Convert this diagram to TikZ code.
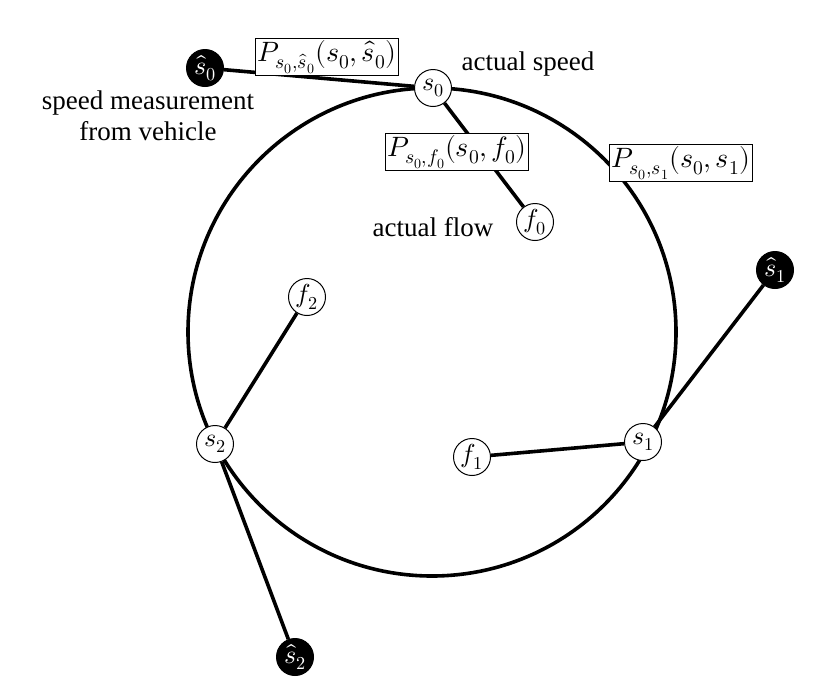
\documentclass[tikz,border=0pt]{standalone}
\usepackage{fontspec}
\usepackage{unicode-math}
\setmainfont{Liberation Serif}
\setmathfont{Latin Modern Math}
\usetikzlibrary{backgrounds}
\begin{document}
\begin{tikzpicture}[x=1pt,y=-1pt,
  vnode/.style={circle,draw,line width=1pt,fill=white,minimum size=37pt,inner sep=0pt,font=\fontsize{26}{28}\selectfont},
  obs/.style={vnode,fill=black,text=white},
  lbox/.style={draw,line width=1pt,fill=white,inner sep=2pt,font=\fontsize{28}{30}\selectfont},
  txt/.style={font=\fontsize{27}{31}\selectfont,align=center},
  edge/.style={line width=3.6pt}]
\useasboundingbox (0,0) rectangle (832,697);
\node[vnode] (s0) at (433,88) {$s_0$};
\node[vnode] (s1) at (643,442) {$s_1$};
\node[vnode] (s2) at (215,444) {$s_2$};
\node[vnode] (f0) at (535,222) {$f_0$};
\node[vnode] (f1) at (472,457) {$f_1$};
\node[vnode] (f2) at (307,297) {$f_2$};
\node[obs] (h0) at (205,68) {$\hat s_0$};
\node[obs] (h1) at (775,270) {$\hat s_1$};
\node[obs] (h2) at (295,657) {$\hat s_2$};
\begin{scope}[on background layer]
\draw[edge] (432,332) circle (244);
\draw[edge] (h0) -- (s0);
\draw[edge] (s0) -- (f0);
\draw[edge] (s1) -- (f1);
\draw[edge] (s1) -- (h1);
\draw[edge] (s2) -- (f2);
\draw[edge] (s2) -- (h2);
\end{scope}
\node[lbox] (b0) at (327,57) {$P_{s_0,\hat s_0}(s_0,\hat s_0)$};
\node[lbox] (b1) at (457,152) {$P_{s_0,f_0}(s_0,f_0)$};
\node[lbox] (b2) at (681,163) {$P_{s_0,s_1}(s_0,s_1)$};
\node[txt] (t0) at (528,64) {actual speed};
\node[txt] (t1) at (148,116) {speed measurement\\from vehicle};
\node[txt] (t2) at (433,227) {actual flow};
\end{tikzpicture}
\end{document}
